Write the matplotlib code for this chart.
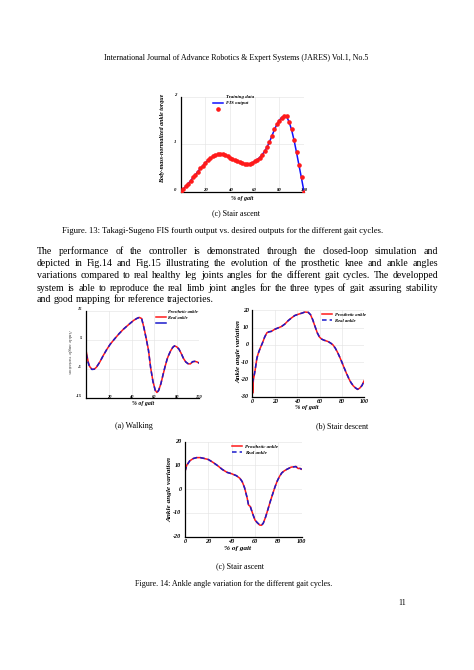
import matplotlib
matplotlib.use("Agg")
import matplotlib.pyplot as plt
from matplotlib.lines import Line2D

W, H = 474, 670
plt.rcParams['font.family'] = ['Liberation Serif', 'DejaVu Serif']

# ---- Fig. 13 (c) stair ascent : torque ----
gait13 = [0, 2, 4, 6, 8, 10, 12, 14, 16, 18, 20, 22, 24, 26, 28, 30, 32, 34, 36, 38,
          40, 42, 44, 46, 48, 50, 52, 54, 56, 58, 60, 62, 64, 66, 68, 70, 72, 74, 76,
          78, 80, 82, 84, 86, 88, 90, 92, 94, 96, 98, 100]
train13 = [0.00, 0.05, 0.11, 0.17, 0.23, 0.30, 0.36, 0.42, 0.49, 0.55, 0.61, 0.66, 0.71,
           0.75, 0.78, 0.79, 0.80, 0.79, 0.77, 0.75, 0.72, 0.69, 0.66, 0.64, 0.62, 0.61,
           0.59, 0.58, 0.59, 0.61, 0.64, 0.67, 0.72, 0.78, 0.85, 0.94, 1.05, 1.17, 1.33,
           1.42, 1.50, 1.56, 1.60, 1.60, 1.48, 1.32, 1.10, 0.83, 0.56, 0.30, 0.00]
fis13 = [0.00, 0.05, 0.11, 0.17, 0.23, 0.30, 0.36, 0.43, 0.49, 0.55, 0.61, 0.66, 0.70,
         0.74, 0.77, 0.78, 0.79, 0.78, 0.77, 0.75, 0.72, 0.69, 0.66, 0.64, 0.62, 0.60,
         0.59, 0.58, 0.59, 0.61, 0.64, 0.68, 0.72, 0.78, 0.85, 0.94, 1.05, 1.18, 1.31,
         1.42, 1.51, 1.57, 1.60, 1.58, 1.47, 1.30, 1.08, 0.82, 0.55, 0.28, 0.00]

# ---- Fig. 14 (a) walking ----
walk_x = [0, 1.5, 3, 5, 7, 9, 12, 15, 18, 21, 25, 29, 33, 38, 42, 45, 47, 49, 51, 53, 55,
          57, 59, 61, 62.5, 64, 66, 68, 70, 72, 74.5, 76.5, 78, 80, 82, 84, 86, 88, 90,
          92, 94, 96, 98, 100]
walk_real = [0.2, -2.6, -4.3, -5.1, -5.0, -4.3, -2.5, -0.3, 1.7, 3.5, 5.4, 7.2, 8.8, 10.5,
             11.8, 12.5, 12.8, 12.4, 9.2, 5.5, 1.5, -4.7, -9.3, -12.3, -13.0, -12.3, -10.0,
             -6.7, -3.6, -0.9, 1.2, 2.5, 3.0, 2.7, 1.9, 0.4, -1.3, -2.5, -3.1, -3.2, -2.4,
             -2.3, -2.5, -2.9]
walk_pros = [1.0, -2.2, -4.1, -5.0, -5.0, -4.3, -2.5, -0.3, 1.7, 3.5, 5.4, 7.2, 8.8, 10.5,
             11.8, 12.5, 12.8, 12.4, 9.3, 5.6, 1.6, -4.6, -9.2, -12.2, -13.0, -12.3, -10.0,
             -6.8, -3.7, -1.0, 1.2, 2.5, 3.0, 2.7, 1.9, 0.4, -1.3, -2.5, -3.1, -3.2, -2.5,
             -2.3, -2.5, -2.9]

# ---- Fig. 14 (b) stair descent ----
desc_x = [0, 1, 2, 3, 4, 5, 7, 9, 11, 13, 15, 17, 20, 23, 26, 29, 32, 35, 38, 41, 44, 47,
          50, 52, 54, 56, 58, 60, 62, 64, 66, 68, 70, 72, 74, 76, 78, 80, 82, 84, 86, 88,
          90, 92, 94, 96, 98, 100]
desc_real = [-22.0, -19.5, -16.5, -12.5, -8.0, -5.5, -2.0, 1.0, 4.5, 7.0, 7.6, 7.8, 9.0,
             9.8, 10.6, 12.0, 14.0, 15.6, 17.0, 17.7, 18.3, 19.0, 18.8, 17.5, 14.5, 10.7,
             7.0, 4.5, 3.3, 2.7, 2.3, 1.8, 1.0, 0.0, -1.8, -4.2, -7.0, -10.0, -13.3, -16.3,
             -19.2, -21.7, -23.5, -24.8, -25.7, -25.0, -23.5, -20.5]
desc_pros_x = [0, 0.3, 1, 2, 3, 4, 5, 7, 9, 11, 13, 15, 17, 20, 23, 26, 29, 32, 35, 38, 41,
               44, 47, 50, 52, 54, 56, 58, 60, 62, 64, 66, 68, 70, 72, 74, 76, 78, 80, 82,
               84, 86, 88, 90, 92, 94, 96, 98, 100]
desc_pros = [1.0, -28.0, -20.0, -16.8, -12.6, -8.2, -5.6, -2.0, 1.0, 4.4, 7.0, 7.5, 7.8,
             9.0, 9.8, 10.6, 12.0, 14.0, 15.6, 17.0, 17.7, 18.3, 19.0, 18.8, 17.4, 14.4,
             10.6, 7.0, 4.5, 3.3, 2.7, 2.3, 1.8, 1.0, 0.0, -1.8, -4.2, -7.0, -10.1, -13.3,
             -16.4, -19.3, -21.8, -23.6, -24.9, -25.8, -25.0, -23.4, -20.6]

# ---- Fig. 14 (c) stair ascent ----
asc_x = [0, 1.5, 4, 7, 10, 13, 16, 20, 24, 28, 32, 36, 40, 44, 47, 49, 51, 53, 54.5, 56,
         58, 60, 62, 64, 65.5, 67, 69, 71, 73, 75, 77, 79, 81, 83, 85, 87, 89, 91, 93, 95,
         97, 98.5, 100]
asc_real = [7.5, 10.0, 11.9, 12.9, 13.3, 13.3, 13.0, 12.5, 11.3, 9.9, 8.3, 7.1, 6.5, 5.7,
            4.6, 3.2, 0.6, -3.2, -6.8, -7.4, -10.4, -13.0, -14.1, -15.0, -15.1, -14.4,
            -11.8, -8.6, -5.3, -2.2, 0.8, 3.4, 5.4, 6.9, 7.7, 8.3, 8.8, 9.3, 9.4, 9.5, 8.6,
            8.7, 8.4]
asc_pros_x = [0, 0.3, 1.5, 4, 7, 10, 13, 16, 20, 24, 28, 32, 36, 40, 44, 47, 49, 51, 53,
              54.5, 56, 58, 60, 62, 64, 65.5, 67, 69, 71, 73, 75, 77, 79, 81, 83, 85, 87,
              89, 91, 93, 95, 97, 98.5, 100]
asc_pros = [18.0, 8.0, 10.1, 11.9, 12.9, 13.3, 13.3, 13.0, 12.5, 11.3, 9.9, 8.3, 7.1, 6.5,
            5.7, 4.6, 3.2, 0.7, -3.1, -6.7, -7.3, -10.3, -13.0, -14.2, -15.1, -15.2, -14.4,
            -11.8, -8.6, -5.3, -2.2, 0.8, 3.4, 5.4, 6.9, 7.7, 8.3, 8.8, 9.3, 9.4, 9.6, 8.7,
            8.8, 8.4]

header = "International Journal of Advance Robotics & Expert Systems (JARES) Vol.1, No.5"
cap13 = "Figure. 13: Takagi-Sugeno FIS fourth output vs. desired outputs for the different gait cycles."
cap14 = "Figure. 14: Ankle angle variation for the different gait cycles."
para = [
    "The performance of the controller is demonstrated through the closed-loop simulation and",
    "depicted in Fig.14 and Fig.15 illustrating the evolution of the prosthetic knee and ankle angles",
    "variations compared to real healthy leg joints angles for the different gait cycles. The developped",
    "system is able to reproduce the real limb joint angles for the three types of gait assuring stability",
    "and good mapping for reference trajectories.",
]

RED = "#ff1a1a"
BLUE = "#1a1acc"
BI = dict(fontweight="bold", fontstyle="italic")

fig = plt.figure(figsize=(W / 100, H / 100), dpi=100)


def box(left, top, right, bottom):
    return fig.add_axes([left / W, 1 - bottom / H, (right - left) / W, (bottom - top) / H])


def put(x, y, s, **kw):
    return fig.text(x / W, 1 - y / H, s, **kw)


def style(ax, ylim, xt, yt, fs, xpad, ypad, yva="center"):
    ax.set_xlim(0, 100)
    ax.set_ylim(*ylim)
    ax.set_xticks(xt, [str(v) for v in xt], fontsize=fs, **BI)
    ax.set_yticks(yt, [str(v) for v in yt], fontsize=fs, va=yva, **BI)
    ax.grid(True, color="#e2e2e2", lw=0.4)
    ax.set_axisbelow(True)
    for s in ["top", "right"]:
        ax.spines[s].set_visible(False)
    for s in ["left", "bottom"]:
        ax.spines[s].set_linewidth(0.9)
    ax.tick_params(axis="x", length=0, pad=xpad)
    ax.tick_params(axis="y", length=0, pad=ypad)


# Fig 13
ax = box(180.7, 97, 304, 191.7)
style(ax, (0, 2), [20, 40, 60, 80, 100], [0, 1, 2], 3.4, -2.5, 3, yva="bottom")
ax.plot(gait13, fis13, color="#1010ff", lw=1.1, zorder=2)
ax.plot(gait13, train13, ls="none", marker="o", ms=2.3, color=RED, zorder=3)
ax.legend([Line2D([], [], ls="none"), Line2D([], [], color="#1010ff", lw=1.1),
           Line2D([], [], ls="none", marker="o", ms=2.3, color=RED)],
          ["Training data", "FIS output", ""], loc="upper left",
          bbox_to_anchor=(0.24, 1.05), frameon=False, prop=dict(size=3.5, weight="bold", style="italic"),
          handlelength=2.2, labelspacing=0.35, borderpad=0, handletextpad=0.5)
put(163, 138, "Body-mass-normalized ankle torque", fontsize=4.3, rotation=90,
    ha="center", va="center", **BI)
put(242, 198, "% of gait", fontsize=4.3, ha="center", va="center", **BI)

# Fig 14 (a)
ax = box(86.3, 311, 199.3, 398.3)
style(ax, (-15, 15), [20, 40, 60, 80, 100], [15, 5, -5, -15], 3.2, -2.5, 3, yva="bottom")
ax.plot(walk_x, walk_pros, color=RED, lw=1.1)
ax.plot(walk_x, walk_real, color=BLUE, lw=1.1, ls=(0, (3, 2)))
ax.legend([Line2D([], [], ls="none"), Line2D([], [], color=RED, lw=1.1),
           Line2D([], [], color=BLUE, lw=1.1)],
          ["Prosthetic ankle", "Real ankle", ""], loc="upper left",
          bbox_to_anchor=(0.6, 1.04), frameon=False, prop=dict(size=3.2, weight="bold", style="italic"),
          handlelength=2.2, labelspacing=0.35, borderpad=0, handletextpad=0.5)
put(69, 352, "Ankle angle variation", fontsize=3.6, rotation=-90, ha="center",
    va="center", color="#444444")
put(143, 404, "% of gait", fontsize=4.2, ha="center", va="center", **BI)

# Fig 14 (b)
ax = box(252.3, 310.3, 364.3, 396.7)
style(ax, (-30, 20), [0, 20, 40, 60, 80, 100], [20, 10, 0, -10, -20, -30], 4.2, 1.5, 2.5)
ax.plot(desc_pros_x, desc_pros, color=RED, lw=1.1)
ax.plot(desc_x, desc_real, color=BLUE, lw=1.1, ls=(0, (3, 2)))
ax.legend([Line2D([], [], color=RED, lw=1.1), Line2D([], [], color=BLUE, lw=1.1, ls=(0, (3, 2)))],
          ["Prosthetic ankle", "Real ankle"], loc="upper left",
          bbox_to_anchor=(0.6, 1.0), frameon=False, prop=dict(size=3.3, weight="bold", style="italic"),
          handlelength=2.2, labelspacing=0.4, borderpad=0, handletextpad=0.6)
put(238.5, 352, "Ankle angle variation", fontsize=5, rotation=90, ha="center",
    va="center", **BI)
put(307, 407, "% of gait", fontsize=4.5, ha="center", va="center", **BI)

# Fig 14 (c)
ax = box(185, 441.7, 301.7, 536.7)
style(ax, (-20, 20), [0, 20, 40, 60, 80, 100], [20, 10, 0, -10, -20], 4.4, 1.8, 2.5)
ax.plot(asc_pros_x, asc_pros, color=RED, lw=1.1)
ax.plot(asc_x, asc_real, color=BLUE, lw=1.1, ls=(0, (3, 2)))
ax.legend([Line2D([], [], color=RED, lw=1.1), Line2D([], [], color=BLUE, lw=1.1, ls=(0, (3, 2)))],
          ["Prosthetic ankle", "Real ankle"], loc="upper left",
          bbox_to_anchor=(0.38, 1.0), frameon=False, prop=dict(size=3.5, weight="bold", style="italic"),
          handlelength=2.2, labelspacing=0.45, borderpad=0, handletextpad=0.6)
put(170, 490, "Ankle angle variation", fontsize=5.2, rotation=90, ha="center",
    va="center", **BI)
put(237, 548.5, "% of gait", fontsize=5.2, ha="center", va="center", **BI)

# page text
put(236.5, 58, header, fontsize=5.8, ha="center", va="center")
put(236, 213.5, "(c) Stair ascent", fontsize=5.8, ha="center", va="center")
put(61.5, 231, cap13, fontsize=6.2, ha="left", va="center")
put(134, 426.5, "(a) Walking", fontsize=5.8, ha="center", va="center")
put(342.5, 426.5, "(b) Stair descent", fontsize=5.8, ha="center", va="center")
put(240, 566.5, "(c) Stair ascent", fontsize=5.8, ha="center", va="center")
put(135, 584, cap14, fontsize=5.8, ha="left", va="center")
put(402, 603, "11", fontsize=5.8, ha="center", va="center")

# justified paragraph (words placed on a common baseline)
renderer = fig.canvas.get_renderer()
p_left, p_right = 37, 438
p_y = [254.5, 266.5, 278.5, 290.5, 302.5]
p_size = 7.1
for i, line in enumerate(para):
    words = line.split()
    objs = [put(0, p_y[i], w, fontsize=p_size, ha="left", va="baseline") for w in words]
    widths = [o.get_window_extent(renderer).width for o in objs]
    if i == len(para) - 1:
        gap = 2.5
    else:
        gap = (p_right - p_left - sum(widths)) / (len(words) - 1)
    x = p_left
    for o, w in zip(objs, widths):
        o.set_position((x / W, 1 - p_y[i] / H))
        x += w + gap

fig.savefig("out.png", dpi=100)
